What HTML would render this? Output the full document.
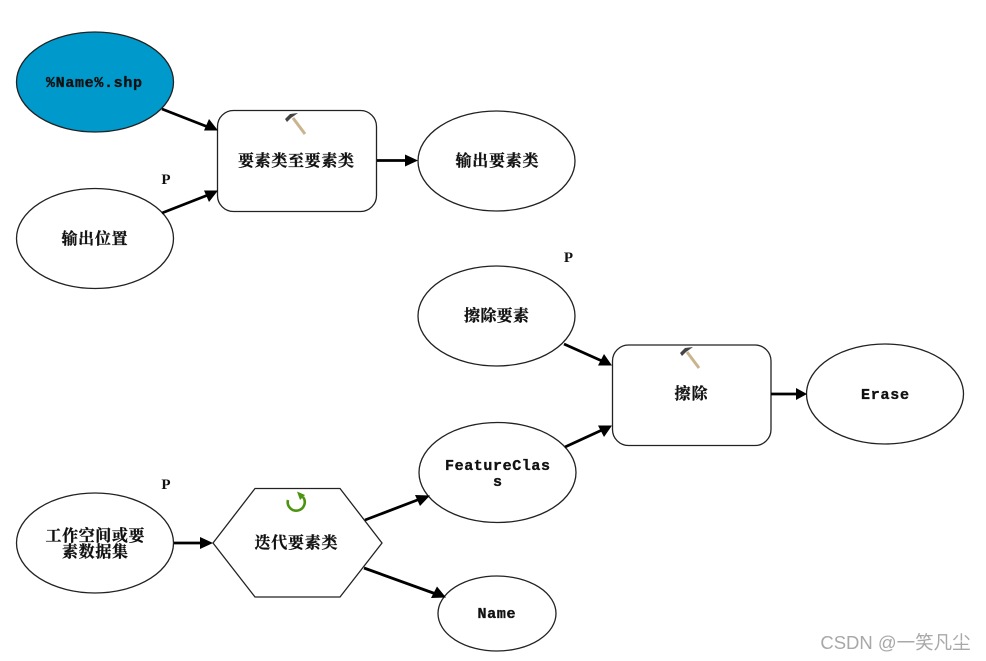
<!DOCTYPE html>
<html>
<head>
<meta charset="utf-8">
<style>
html,body{margin:0;padding:0;background:#fff;width:986px;height:661px;overflow:hidden}
svg{display:block}
.l{font-family:"Liberation Mono",monospace;font-weight:bold;font-size:15px;fill:#111;stroke:#111;stroke-width:.35;text-anchor:middle}
.c{font-family:"Liberation Serif","Noto Serif CJK SC",serif;font-weight:bold;font-size:16px;fill:#111;stroke:#111;stroke-width:.3;text-anchor:middle}
.p{font-family:"Liberation Serif",serif;font-weight:bold;font-size:15px;fill:#111;text-anchor:middle}
.s{fill:#fff;stroke:#222;stroke-width:1.3}
.a{stroke:#000;stroke-width:2.8;fill:none}
.h{fill:#000;stroke:none}
.d{filter:blur(.35px)}
</style>
</head>
<body>
<svg width="986" height="661" viewBox="0 0 986 661" xmlns="http://www.w3.org/2000/svg">
<g class="d">
<!-- nodes -->
<ellipse cx="95" cy="82" rx="78.5" ry="50" fill="#0099cc" stroke="#222" stroke-width="1.3"/>
<ellipse cx="95" cy="238.500" rx="78.500" ry="50" class="s"/>
<rect x="217.500" y="110.500" width="159" height="101" rx="16" ry="16" class="s"/>
<ellipse cx="496.500" cy="161" rx="78.500" ry="50" class="s"/>
<ellipse cx="496.500" cy="316" rx="78.500" ry="50" class="s"/>
<rect x="612.500" y="345" width="158.500" height="100.500" rx="16" ry="16" class="s"/>
<ellipse cx="885" cy="394" rx="78.500" ry="50" class="s"/>
<ellipse cx="497.500" cy="472.500" rx="78.500" ry="50" class="s"/>
<ellipse cx="95" cy="543" rx="78.500" ry="50" class="s"/>
<polygon points="213,543 255,488.500 340,488.500 382,543 340,597 255,597" class="s"/>
<ellipse cx="497" cy="613.500" rx="59" ry="37.500" class="s"/>

<!-- connectors -->
<line class="a" x1="162" y1="109" x2="208" y2="127"/>
<polygon class="h" points="218,130.500 204,130.500 209,119"/>
<line class="a" x1="162" y1="213" x2="208" y2="195"/>
<polygon class="h" points="218,190.500 209,202 204,190.500"/>
<line class="a" x1="377" y1="160.500" x2="408" y2="160.500"/>
<polygon class="h" points="418,160.500 405,154.500 405,166.500"/>
<line class="a" x1="564" y1="344" x2="602" y2="361"/>
<polygon class="h" points="612,365.500 598,365.500 604,354"/>
<line class="a" x1="565" y1="447" x2="602" y2="430"/>
<polygon class="h" points="612,425.500 604,437 598,425.500"/>
<line class="a" x1="771" y1="394" x2="798" y2="394"/>
<polygon class="h" points="807,394 796,388 796,400"/>
<line class="a" x1="174" y1="543" x2="205" y2="543"/>
<polygon class="h" points="213,543 200,537 200,549"/>
<line class="a" x1="365" y1="520" x2="420" y2="499"/>
<polygon class="h" points="430,495.500 420,506 415,495"/>
<line class="a" x1="364" y1="568" x2="436" y2="594"/>
<polygon class="h" points="446,597.500 431,598 437,586.500"/>

<!-- hammer icons -->
<g>
<line x1="293" y1="118" x2="305" y2="134" stroke="#c9b48f" stroke-width="3"/>
<path d="M285 119 L290 114 L298 113 L291 118 L287 122Z" fill="#444"/>
</g>
<g>
<line x1="687" y1="352" x2="699" y2="368" stroke="#c9b48f" stroke-width="3"/>
<path d="M680 353 L685 348 L693 347 L686 352 L682 356Z" fill="#444"/>
</g>
<!-- iterator icon -->
<path d="M288 500 A8.500 8.500 0 1 0 303 497" fill="none" stroke="#4b9410" stroke-width="2.600"/>
<polygon points="297,491.500 305,495 300,500" fill="#4b9410"/>

<!-- labels -->
<text class="l" x="94" y="87" textLength="96" lengthAdjust="spacing">%Name%.shp</text>
<text class="c" x="94.500" y="244" textLength="66">输出位置</text>
<text class="c" x="296" y="166" textLength="116">要素类至要素类</text>
<text class="c" x="497" y="166" textLength="83">输出要素类</text>
<text class="c" x="496.500" y="321" textLength="65">擦除要素</text>
<text class="c" x="691" y="399" textLength="33">擦除</text>
<text class="l" x="885" y="399" textLength="48" lengthAdjust="spacing">Erase</text>
<text class="l" x="497.500" y="470" textLength="105" lengthAdjust="spacing">FeatureClas</text>
<text class="l" x="497.500" y="486">s</text>
<text class="c" x="95" y="541" textLength="99">工作空间或要</text>
<text class="c" x="95" y="557" textLength="66">素数据集</text>
<text class="c" x="296" y="548" textLength="83">迭代要素类</text>
<text class="l" x="496.500" y="618" textLength="38" lengthAdjust="spacing">Name</text>
<text class="p" x="166" y="184">P</text>
<text class="p" x="568.500" y="262">P</text>
<text class="p" x="166" y="489">P</text>
</g>
<text x="895.500" y="649" text-anchor="middle" font-family="'Liberation Sans','Noto Sans CJK SC',sans-serif" font-size="18.500" fill="#a8a8a8">CSDN @一笑凡尘</text>
</svg>
</body>
</html>
